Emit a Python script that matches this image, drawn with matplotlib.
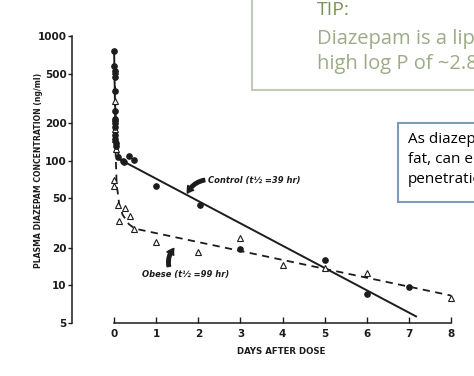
import numpy as np
from matplotlib import pyplot as plt
from matplotlib.patches import Rectangle

# control subjects (filled circles)
control_days = [0.0, 0.0, 0.01, 0.01, 0.01, 0.02, 0.02, 0.02, 0.02, 0.03, 0.03, 0.04, 0.05,
                0.1, 0.22, 0.24, 0.36, 0.48, 1.0, 2.04, 3.0, 5.0, 6.0, 7.0]
control_conc = [760, 580, 520, 470, 360, 250, 215, 200, 185, 160, 150, 140, 132,
                108, 100, 97, 110, 102, 63, 44, 19.5, 16, 8.6, 9.8]
# fitted line, control (t1/2 = 39 hr)
control_fit_days = [0.0, 0.02, 0.06, 0.12, 7.17]
control_fit_conc = [760, 300, 140, 103, 5.65]

# obese subjects (open triangles)
obese_days = [0.01, 0.01, 0.02, 0.02, 0.03, 0.04, 0.0, 0.0, 0.1, 0.26, 0.38, 0.12,
              0.48, 1.0, 2.0, 3.0, 4.0, 5.0, 6.0, 8.0]
obese_conc = [520, 300, 220, 180, 150, 125, 70, 63, 44, 41.5, 36, 33,
              28.5, 22.5, 18.7, 23.8, 14.7, 13.9, 12.5, 7.9]
# fitted curve, obese (t1/2 = 99 hr)
obese_fit_days = [0.02, 0.03, 0.06, 0.12, 0.2, 0.35, 0.5, 8.0]
obese_fit_conc = [500, 130, 65, 45, 37, 31, 28.5, 8.3]

y_ticks = [5, 10, 20, 50, 100, 200, 500, 1000]
x_ticks = [0, 1, 2, 3, 4, 5, 6, 7, 8]

ink = '#1c1c1c'

fig = plt.figure(figsize=(4.74, 3.76), dpi=100)
ax = fig.add_axes([72 / 474, 53 / 376, 379 / 474, 287 / 376])

ax.plot(control_fit_days, control_fit_conc, color=ink, lw=1.4)
ax.plot(obese_fit_days, obese_fit_conc, color=ink, lw=1.3, ls=(0, (4, 3)))
ax.plot(obese_days, obese_conc, ls='none', marker='^', ms=4.2, mfc='white', mec=ink, mew=0.8,
        clip_on=False)
ax.plot(control_days, control_conc, ls='none', marker='o', ms=3.8, color=ink, clip_on=False)

ax.set_yscale('log')
ax.set_ylim(5, 1000)
ax.set_xlim(-1.0, 8.0)
ax.set_yticks(y_ticks)
ax.set_yticklabels([str(v) for v in y_ticks])
ax.yaxis.set_minor_locator(plt.NullLocator())
ax.set_xticks(x_ticks)

for s in ['top', 'right']:
    ax.spines[s].set_visible(False)
ax.spines['bottom'].set_bounds(0, 8)
ax.spines['left'].set_color(ink)
ax.spines['bottom'].set_color(ink)
ax.spines['left'].set_linewidth(1.1)
ax.spines['bottom'].set_linewidth(1.1)

ax.tick_params(axis='y', direction='out', length=3, width=1, pad=1, colors=ink,
               labelsize=7.5)
ax.tick_params(axis='x', direction='in', length=4, width=1, pad=4, colors=ink,
               labelsize=7.5)
for lab in ax.get_xticklabels() + ax.get_yticklabels():
    lab.set_fontweight('bold')

ax.set_ylabel('PLASMA DIAZEPAM CONCENTRATION (ng/ml)', fontsize=5.6, fontweight='bold', color=ink)
ax.yaxis.set_label_coords(-0.077, 0.533)
ax.set_xlabel('DAYS AFTER DOSE', fontsize=6.2, fontweight='bold', color=ink)
ax.xaxis.set_label_coords(0.551, -0.084)

# annotations with thick arrows
arrow = dict(arrowstyle='simple,head_length=0.45,head_width=0.55,tail_width=0.25',
             color=ink, shrinkA=0, shrinkB=0)
ax.text(2.23, 70, 'Control (t½ =39 hr)', fontsize=6, fontstyle='italic', fontweight='bold',
        color=ink, va='center')
ax.annotate('', xy=(1.74, 55), xytext=(2.15, 70),
            arrowprops=dict(arrow, connectionstyle='arc3,rad=0.25'))
ax.text(0.66, 12.2, 'Obese (t½ =99 hr)', fontsize=6, fontstyle='italic', fontweight='bold',
        color=ink, va='center')
ax.annotate('', xy=(1.42, 19.8), xytext=(1.3, 14.2),
            arrowprops=dict(arrow, connectionstyle='arc3,rad=-0.25'))

# overlay boxes from the slide
fig.patches.append(Rectangle((252 / 474, (376 - 90) / 376), 0.6, 0.3, transform=fig.transFigure,
                             facecolor='white', edgecolor='#c3cab7', lw=1.5))
fig.text(317 / 474, 1 - 15 / 376, 'TIP:', fontsize=14, family='Open Sans', color='#7a9654')
fig.text(317 / 474, 1 - 44 / 376, 'Diazepam is a lipophilic drug with a', fontsize=14.5,
         family='Open Sans', color='#9dac86')
fig.text(317 / 474, 1 - 69 / 376, 'high log P of ~2.8', fontsize=14.5, family='Open Sans',
         color='#9dac86')

fig.patches.append(Rectangle((398 / 474, (376 - 202) / 376), 0.4, 79 / 376, transform=fig.transFigure,
                             facecolor='white', edgecolor='#7f9bb8', lw=1.5))
fig.text(408 / 474, 1 - 143 / 376, 'As diazepam is lipophilic', fontsize=11, family='Open Sans',
         color='black')
fig.text(408 / 474, 1 - 163 / 376, 'fat, can enter adipose tissue', fontsize=11, family='Open Sans',
         color='black')
fig.text(408 / 474, 1 - 183 / 376, 'penetration', fontsize=11, family='Open Sans', color='black')

fig.savefig('out.png', dpi=100)
